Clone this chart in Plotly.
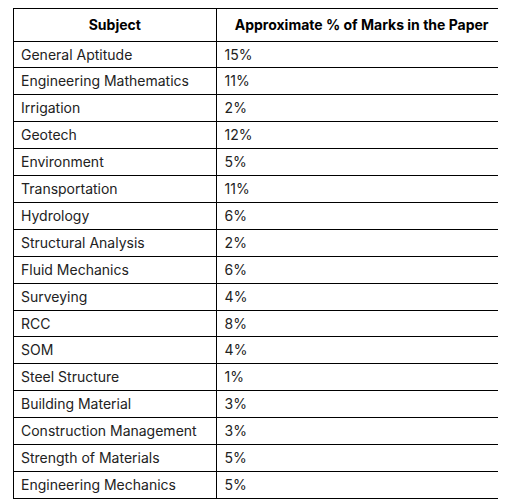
import plotly.graph_objects as go

subjects = ["General Aptitude", "Engineering Mathematics", "Irrigation", "Geotech", "Environment",
            "Transportation", "Hydrology", "Structural Analysis", "Fluid Mechanics", "Surveying",
            "RCC", "SOM", "Steel Structure", "Building Material", "Construction Management",
            "Strength of Materials", "Engineering Mechanics"]
marks = ["15%", "11%", "2%", "12%", "5%", "11%", "6%", "2%", "6%", "4%", "8%", "4%", "1%", "3%", "3%", "5%", "5%"]
headers = ["<b>Subject</b>", "<b>Approximate % of Marks in the Paper</b>"]

W, H = 506, 499
fig = go.Figure(go.Table(
    columnwidth=[204, 291],
    domain=dict(x=[5 / W, 500 / W], y=[0, 1]),
    header=dict(values=headers, align="center", height=22,
                line=dict(color="black", width=1), fill_color="white",
                font=dict(family="Inter", size=14, color="black")),
    cells=dict(values=[subjects, marks], align="left", height=26.9,
               line=dict(color="black", width=1), fill_color="white",
               font=dict(family="Inter", size=14, color="#222")),
))
fig.update_layout(width=W, height=H, margin=dict(l=0, r=0, t=0, b=0),
                  paper_bgcolor="white")
fig.write_html("out.html")
